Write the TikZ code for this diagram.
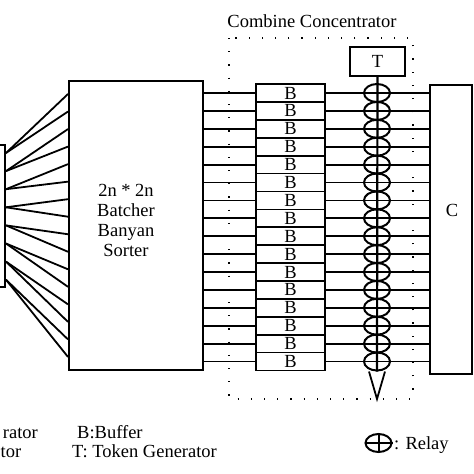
\documentclass[tikz,border=0pt]{standalone}
\usepackage{fontspec}
\setmainfont{Liberation Serif}
\usetikzlibrary{shapes.geometric}

\begin{document}
\begin{tikzpicture}[x=1pt, y=-1pt, font=\fontsize{18.5}{20}\selectfont,
    box/.style={draw, line width=2pt, inner sep=0pt},
    wire/.style={line width=1.8pt},
    bufbox/.style={draw, line width=1.7pt, minimum width=69pt, minimum height=17.9pt, inner sep=0pt},
    relay/.style={draw, ellipse, line width=2pt, minimum width=26pt, minimum height=18pt, inner sep=0pt}]
    \useasboundingbox (0,0) rectangle (474,474);

    % Concentrator frame
    \draw[line width=1.1pt, dash pattern=on 1.2pt off 12pt] (229,38) rectangle (413,399);
    \node (title) at (312,21) {Combine Concentrator};

    % Blocks
    \node[box, minimum width=12pt, minimum height=142pt] (inbox) at (-1,216) {};
    \node[box, minimum width=134pt, minimum height=289pt] (sorter) at (136,225.5) {};
    \node[align=center] (sortlabel) at (126,220) {2n * 2n\\Batcher\\Banyan\\Sorter};
    \node[box, minimum width=55pt, minimum height=29pt] (tok) at (377.5,61.5) {T};
    \node[box, minimum width=42pt, minimum height=289pt] (conc) at (451,229.5) {};
    \node (clabel) at (452,210) {C};

    % Buffers, relays and wires
    \foreach \i in {1,...,16} {
        \node[bufbox] (b\i) at (290.5,{93+17.9*(\i-1)}) {B};
        \node[relay] (r\i) at (377,{93+17.9*(\i-1)}) {};
        \draw[wire] (b\i.west) -- (b\i.west -| sorter.east);
        \draw[wire] (b\i.east) -- (b\i.east -| conc.west);
    }

    % Fan into the sorter
    \foreach \j in {1,...,16}
        \coordinate (s\j) at (sorter.west |- 0,{94+17.53*(\j-1)});
    \foreach \k in {1,...,8} {
        \pgfmathtruncatemacro{\ja}{2*\k-1}
        \pgfmathtruncatemacro{\jb}{2*\k}
        \coordinate (in\k) at (inbox.east |- 0,{153+18.1*(\k-1)});
        \draw[wire] (in\k) -- (s\ja);
        \draw[wire] (in\k) -- (s\jb);
    }

    % Token line
    \draw[line width=2.2pt] (tok.south) -- (r16.south);
    \coordinate (apex) at (377,399);
    \draw[wire] ([xshift=-8pt]r16.south) -- (apex) -- ([xshift=8pt]r16.south);

    % Legend
    \node[anchor=base east, inner sep=0pt] (legcon) at (38,438) {rator};
    \node[anchor=base west, inner sep=0pt] (leggen) at (0.5,457) {tor};
    \node[anchor=base west, inner sep=0pt] (legbuf) at (77,438) {B:Buffer};
    \node[anchor=base west, inner sep=0pt] (legtok) at (72,457) {T: Token Generator};
    \node[relay] (legrelay) at (378.5,443) {};
    \draw[line width=2pt] (legrelay.north) -- (legrelay.south) (legrelay.west) -- (legrelay.east);
    \node[anchor=base west, inner sep=0pt] (legtext) at (394,449) {: Relay};
\end{tikzpicture}
\end{document}
